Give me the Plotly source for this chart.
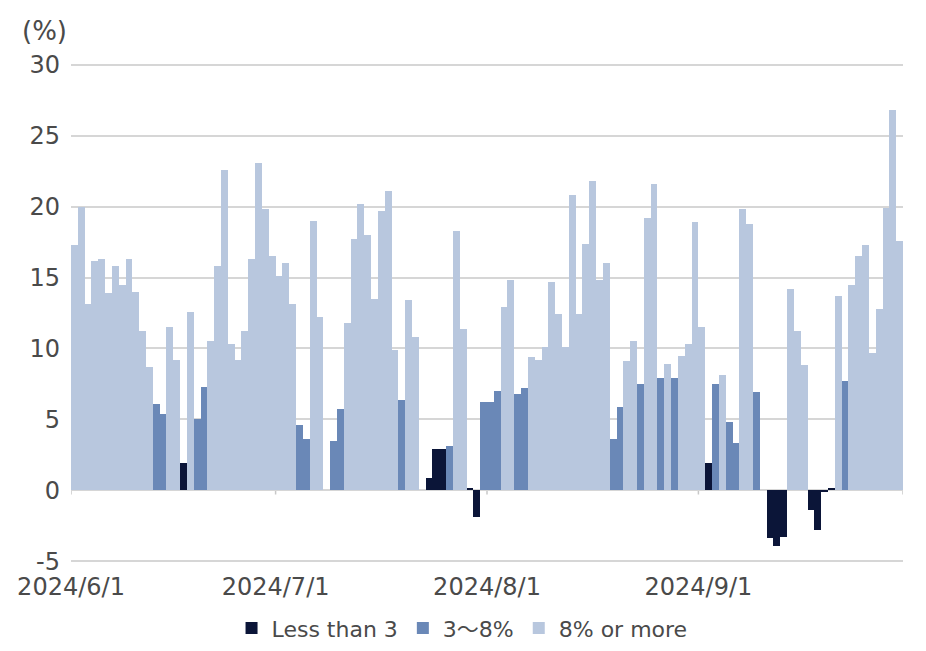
import plotly.graph_objects as go
import pandas as pd

# Daily dates 2024/6/1 - 2024/9/30
dates = pd.date_range("2024-06-01", "2024-09-30", freq="D")

# Series values (None = no bar in that series for that day)
N = None
less_than_3 = [
    N, N, N, N, N, N, N, N, N, N, N, N, N, N, N, N, 1.9, N, N, N,        # 0-19
    N, N, N, N, N, N, N, N, N, N, N, N, N, N, N, N, N, N, N, N,          # 20-39
    N, N, N, N, N, N, N, N, N, N, N, N, 0.9, 2.9, 2.9, N, N, N, 0.15, -1.9,  # 40-59
    N, N, N, N, N, N, N, N, N, N, N, N, N, N, N, N, N, N, N, N,          # 60-79
    N, N, N, N, N, N, N, N, N, N, N, N, N, 1.9, N, N, N, N, N, N,        # 80-99
    N, N, -3.4, -3.9, -3.3, N, N, N, -1.4, -2.8, -0.1, 0.15, N, N, N, N, N, N, N, N,  # 100-119
    N, N,                                                                # 120-121
]
from_3_to_8 = [
    N, N, N, N, N, N, N, N, N, N, N, N, 6.1, 5.4, N, N, N, N, 5.0, 7.3,  # 0-19
    N, N, N, N, N, N, N, N, N, N, N, N, N, 4.6, 3.6, N, N, N, 3.5, 5.7,  # 20-39
    N, N, N, N, N, N, N, N, 6.4, N, N, N, N, N, N, 3.1, N, N, N, N,      # 40-59
    6.2, 6.2, 7.0, N, N, 6.8, 7.2, N, N, N, N, N, N, N, N, N, N, N, N, 3.6,  # 60-79
    5.9, N, N, 7.5, N, N, 7.9, N, 7.9, N, N, N, N, N, 7.5, N, 4.8, 3.3, N, N,  # 80-99
    6.9, N, N, N, N, N, N, N, N, N, N, N, N, 7.7, N, N, N, N, N, N,      # 100-119
    N, N,                                                                # 120-121
]
eight_or_more = [
    17.3, 20.0, 13.1, 16.2, 16.3, 13.9, 15.8, 14.5, 16.3, 14.0, 11.2, 8.7, N, N, 11.5, 9.2, N, 12.6, N, N,  # 0-19
    10.5, 15.8, 22.6, 10.3, 9.2, 11.2, 16.3, 23.1, 19.8, 16.5, 15.1, 16.0, 13.1, N, N, 19.0, 12.2, N, N, N,  # 20-39
    11.8, 17.7, 20.2, 18.0, 13.5, 19.7, 21.1, 9.9, N, 13.4, 10.8, N, N, N, N, N, 18.3, 11.4, N, N,  # 40-59
    N, N, N, 12.9, 14.8, N, N, 9.4, 9.2, 10.1, 14.7, 12.4, 10.1, 20.8, 12.4, 17.4, 21.8, 14.8, 16.0, N,  # 60-79
    N, 9.1, 10.5, N, 19.2, 21.6, N, 8.9, N, 9.5, 10.3, 18.9, 11.5, N, N, 8.1, N, N, 19.8, 18.8,  # 80-99
    N, N, N, N, N, 14.2, 11.2, 8.8, N, N, N, N, 13.7, N, 14.5, 16.5, 17.3, 9.7, 12.8, 19.9,  # 100-119
    26.8, 17.6,                                                          # 120-121
]

series_names = ["Less than 3", "3～8%", "8% or more"]
series_colors = ["#0b1538", "#6a88b7", "#b8c7de"]

tick_dates = ["2024-06-01", "2024-07-01", "2024-08-01", "2024-09-01"]
tick_labels = ["2024/6/1", "2024/7/1", "2024/8/1", "2024/9/1"]
y_ticks = [-5, 0, 5, 10, 15, 20, 25, 30]
y_tick_labels = ["-5", "0", "5", "10", "15", "20", "25", "30"]

FONT = "DejaVu Sans"
TXT = "#4a4a4a"
DAY_MS = 86400000

fig = go.Figure()
for name, vals, col in zip(series_names, [less_than_3, from_3_to_8, eight_or_more], series_colors):
    fig.add_trace(go.Bar(
        x=dates, y=vals, name=name,
        marker=dict(color=col, line=dict(width=0)),
        width=DAY_MS, offset=0,
    ))

# small tick marks on the zero axis line at month starts
for d in tick_dates + ["2024-10-01"]:
    fig.add_shape(type="line", xref="x", yref="y", x0=d, x1=d, y0=0, y1=-0.3,
                  line=dict(color="#c8c8c8", width=1.5), layer="below")

fig.add_annotation(text="(%)", xref="paper", yref="paper", x=0, y=1,
                   xanchor="right", yanchor="bottom", xshift=-2, yshift=14,
                   showarrow=False, font=dict(family=FONT, size=26, color=TXT))

fig.update_layout(
    width=926, height=651,
    margin=dict(l=71, r=23, t=62, b=87, autoexpand=False),
    paper_bgcolor="white", plot_bgcolor="white",
    barmode="overlay", bargap=0,
    font=dict(family=FONT, size=24, color=TXT),
    showlegend=True,
    legend=dict(orientation="h", x=0.47, xanchor="center", y=-0.128, yanchor="middle",
                font=dict(family=FONT + ", Noto Sans CJK JP", size=22, color=TXT),
                itemwidth=30, tracegroupgap=0),
    xaxis=dict(
        type="date", range=["2024-06-01", "2024-10-01"],
        tickvals=tick_dates, ticktext=tick_labels,
        ticks="", ticklabelstandoff=6, showgrid=False, showline=False, zeroline=False,
        tickfont=dict(family=FONT, size=24, color=TXT),
    ),
    yaxis=dict(
        range=[-5.2, 30.2], tickvals=y_ticks, ticktext=y_tick_labels,
        ticks="", ticklabelstandoff=10,
        showgrid=True, gridcolor="#d6d6d6", gridwidth=1.5,
        zeroline=True, zerolinecolor="#d6d6d6", zerolinewidth=1.5,
        showline=False,
        tickfont=dict(family=FONT, size=24, color=TXT),
    ),
)

fig.write_html("out.html")
